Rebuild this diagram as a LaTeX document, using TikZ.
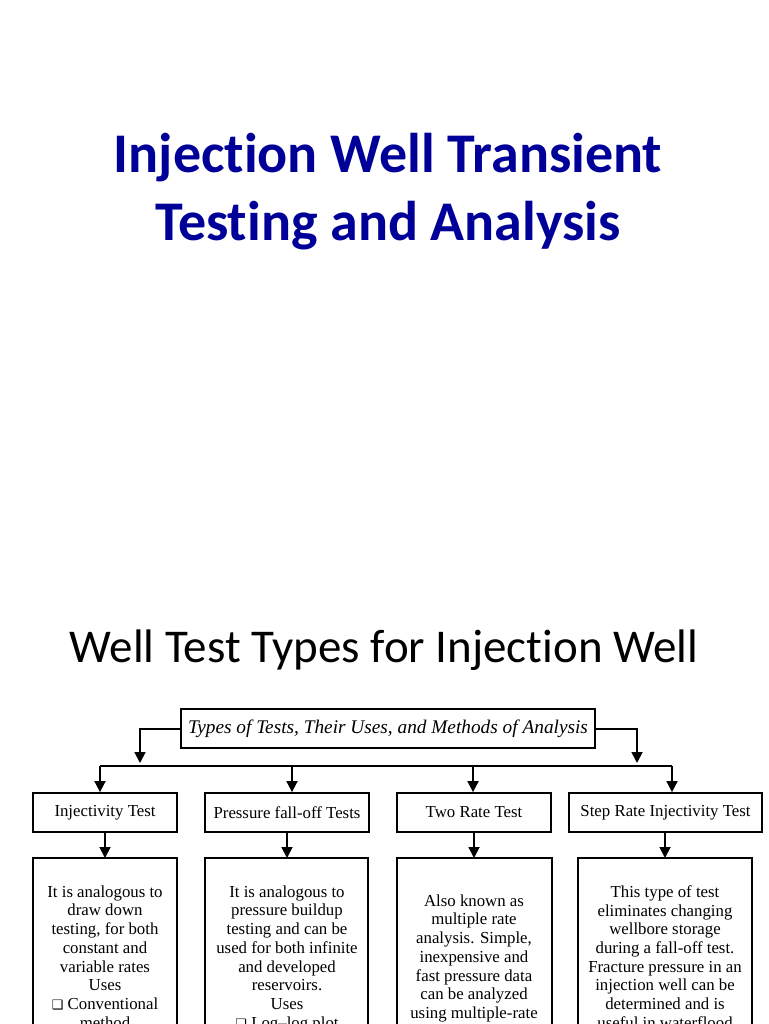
\documentclass[tikz,border=0pt]{standalone}
\usepackage{fontspec}
\setmainfont{Liberation Serif}
\newfontfamily\calib[Ligatures=NoCommon]{Carlito}
\newfontfamily\symf{DejaVu Sans}
\usetikzlibrary{arrows.meta}
\begin{document}
\begin{tikzpicture}[x=1pt,y=-1pt,
  box/.style={draw,line width=1.8pt,inner sep=0pt},
  conn/.style={line width=1.8pt,-{Triangle[length=11pt,width=11pt]}},
  ln/.style={line width=1.8pt},
  head/.style={font=\fontsize{16.8}{18}\selectfont},
  body/.style={font=\fontsize{16.8}{18.7}\selectfont,align=center,anchor=north}]
\useasboundingbox (0,0) rectangle (768,1024);
\clip (0,0) rectangle (768,1024);
\fill[white] (0,0) rectangle (768,1024);
\node[font=\calib\bfseries\fontsize{56}{68}\selectfont,text=blue!60!black,align=center] (title) at (388,192) {Injection Well Transient\\Testing and Analysis};
\node[font=\calib\fontsize{47}{50}\selectfont] (sub) at (384,650) {Well Test Types for Injection Well};
% top box
\node[box,minimum width=414pt,minimum height=39pt,font=\itshape\fontsize{19.3}{20}\selectfont] (top) at (388,728.5) {Types of Tests, Their Uses, and Methods of Analysis};
% second row
\node[box,head,minimum width=144pt,minimum height=39pt] (h1) at (105,812.5) {Injectivity Test};
\node[box,head,minimum width=164pt,minimum height=39pt] (h2) at (287,812.5) {Pressure fall-off Tests};
\node[box,head,minimum width=154pt,minimum height=39pt] (h3) at (474,812.5) {Two Rate Test};
\node[box,head,minimum width=193pt,minimum height=39pt] (h4) at (665.5,812.5) {Step Rate Injectivity Test};
% bottom boxes
\draw[ln] (33,1040) -- (33,858) -- (177,858) -- (177,1040);
\draw[ln] (205,1040) -- (205,858) -- (368,858) -- (368,1040);
\draw[ln] (397,1040) -- (397,858) -- (552,858) -- (552,1040);
\draw[ln] (578,1040) -- (578,858) -- (752,858) -- (752,1040);
\coordinate (b1) at (105,858);
\coordinate (b2) at (287,858);
\coordinate (b3) at (474,858);
\coordinate (b4) at (665,858);
\node[body] (t1) at (105,882) {It is analogous to\\draw down\\testing, for both\\constant and\\variable rates\\Uses\\{\symf\fontsize{13}{18}\selectfont ❑} Conventional\\method};
\node[body] (t2) at (287,882) {It is analogous to\\pressure buildup\\testing and can be\\used for both infinite\\and developed\\reservoirs.\\Uses\\{\symf\fontsize{13}{18}\selectfont ❑} Log–log plot};
\node[body] (t3) at (474,891) {Also known as\\multiple rate\\analysis. Simple,\\inexpensive and\\fast pressure data\\can be analyzed\\using multiple-rate};
\node[body] (t4) at (665,882) {This type of test\\eliminates changing\\wellbore storage\\during a fall-off test.\\Fracture pressure in an\\injection well can be\\determined and is\\useful in waterflood};
% connectors
\draw[conn] (top.west |- 0,729) -- (140,729) -- (140,763);
\draw[conn] (top.east |- 0,729) -- (637,729) -- (637,763);
\draw[ln] (100,766) -- (672,766);
\draw[conn] (100,766) -- (h1.north -| 100,0);
\draw[conn] (292,766) -- (h2.north -| 292,0);
\draw[conn] (473,766) -- (h3.north -| 473,0);
\draw[conn] (672,766) -- (h4.north -| 672,0);
\draw[conn] (h1.south -| b1) -- (b1);
\draw[conn] (h2.south -| b2) -- (b2);
\draw[conn] (h3.south -| b3) -- (b3);
\draw[conn] (h4.south -| b4) -- (b4);
\end{tikzpicture}
\end{document}
